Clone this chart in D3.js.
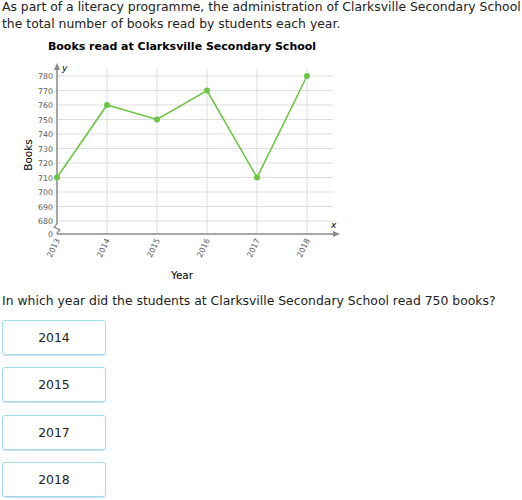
<!DOCTYPE html>
<html><head><meta charset="utf-8">
<script src="https://cdn.jsdelivr.net/npm/d3@7"></script>
<style>
body{margin:0;font-family:"DejaVu Sans",Verdana,sans-serif;color:#222;}
.q{position:absolute;left:2px;font-size:12.4px;line-height:17px;white-space:nowrap;}
.btn{position:absolute;left:2px;width:102px;height:33px;border:1px solid #9fdcec;border-radius:3px;font-size:12.4px;line-height:33px;text-align:center;box-shadow:0 1px 1px #cde;}
</style></head><body>
<div class="q" style="top:-2px">As part of a literacy programme, the administration of Clarksville Secondary School recorded<br>the total number of books read by students each year.</div>
<svg id="c" width="522" height="290" style="position:absolute;left:0;top:0"></svg>
<div class="q" style="top:292px">In which year did the students at Clarksville Secondary School read 750 books?</div>
<div id="answers"></div>
<script>
const years=["2013","2014","2015","2016","2017","2018"];
const books=[710,760,750,770,710,780];
const yTicks=[680,690,700,710,720,730,740,750,760,770,780];
const choices=["2014","2015","2017","2018"];
const svg=d3.select("#c");
const x=d3.scalePoint().domain(years).range([57,307]);
const y=d3.scaleLinear().domain([680,780]).range([221,76]);
const x0=57,yAxis=234,xEnd=333;
svg.append("text").attr("x",182).attr("y",50).attr("text-anchor","middle").attr("font-size","11px").attr("font-weight","bold").text("Books read at Clarksville Secondary School");
const g=svg.append("g");
yTicks.forEach(t=>{g.append("line").attr("x1",x0).attr("x2",xEnd).attr("y1",y(t)).attr("y2",y(t)).attr("stroke","#ddd");
g.append("text").attr("x",x0-4).attr("y",y(t)+3).attr("text-anchor","end").attr("font-size","7.8px").attr("fill","#555").text(t);});
years.slice(1).forEach(v=>g.append("line").attr("x1",x(v)).attr("x2",x(v)).attr("y1",68).attr("y2",yAxis).attr("stroke","#ddd"));
g.append("text").attr("x",x0-4).attr("y",yAxis+3).attr("text-anchor","end").attr("font-size","7.8px").attr("fill","#555").text("0");
g.append("line").attr("x1",x0).attr("x2",x0).attr("y1",66).attr("y2",224).attr("stroke","#888").attr("stroke-width",1.5);
g.append("path").attr("d",`M${x0},224 l-3,3 l6,3 l-3,3 L${x0},${yAxis}`).attr("fill","none").attr("stroke","#888").attr("stroke-width",1.2);
g.append("line").attr("x1",x0).attr("x2",xEnd).attr("y1",yAxis).attr("y2",yAxis).attr("stroke","#888").attr("stroke-width",1.5);
g.append("path").attr("d",`M${x0-3},70 L${x0},63 L${x0+3},70Z`).attr("fill","#888");
g.append("path").attr("d",`M${xEnd},${yAxis-3} L${xEnd+7},${yAxis} L${xEnd},${yAxis+3}Z`).attr("fill","#888");
g.append("text").attr("x",x0+5).attr("y",71).attr("font-size","9px").attr("font-style","italic").text("y");
g.append("text").attr("x",xEnd-2).attr("y",228).attr("font-size","9px").attr("font-style","italic").text("x");
years.forEach(v=>g.append("text").attr("transform",`translate(${x(v)+3},${yAxis+6}) rotate(-65)`).attr("text-anchor","end").attr("font-size","7.8px").attr("fill","#555").text(v));
svg.append("text").attr("x",182).attr("y",279).attr("text-anchor","middle").attr("font-size","10.5px").text("Year");
svg.append("text").attr("transform","translate(32,155) rotate(-90)").attr("text-anchor","middle").attr("font-size","10.5px").text("Books");
const data=years.map((v,i)=>({x:v,y:books[i]}));
g.append("path").datum(data).attr("d",d3.line().x(d=>x(d.x)).y(d=>y(d.y))).attr("fill","none").attr("stroke","#6cc644").attr("stroke-width",1.6);
g.selectAll("circle").data(data).join("circle").attr("cx",d=>x(d.x)).attr("cy",d=>y(d.y)).attr("r",3).attr("fill","#6cc644");
d3.select("#answers").selectAll("div").data(choices).join("div").attr("class","btn").style("top",(d,i)=>(320+i*47.3)+"px").text(d=>d);
</script></body></html>
